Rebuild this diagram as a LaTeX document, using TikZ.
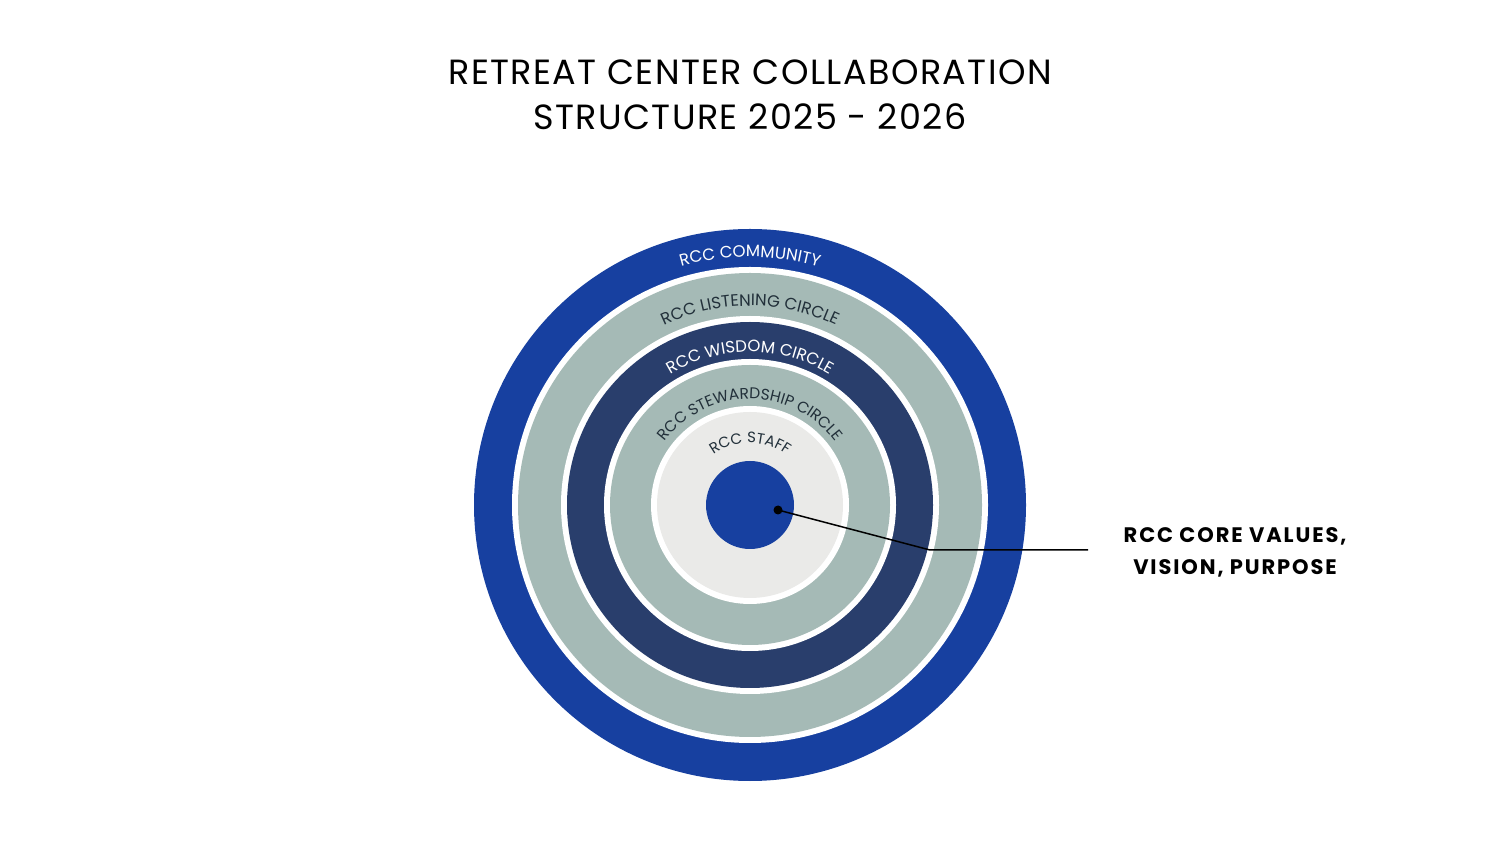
\documentclass[tikz,border=0pt]{standalone}
\usepackage{fontspec}
\setmainfont{Poppins}
\newfontfamily\titlefont[LetterSpace=4]{Poppins}
\newfontfamily\labfont[LetterSpace=9]{Poppins}
\usetikzlibrary{decorations.text,calc}
\definecolor{rblue}{HTML}{1740A0}
\definecolor{rgray}{HTML}{A5BAB6}
\definecolor{rdark}{HTML}{293E6C}
\definecolor{rlight}{HTML}{EAEAE8}
\definecolor{rtext}{HTML}{22303A}
\tikzset{disc/.style={circle,inner sep=0pt,minimum size=#1}}
\begin{document}
\begin{tikzpicture}[x=1pt,y=1pt]
\useasboundingbox[fill=white] (0,0) rectangle (1500,844);
\coordinate (c) at (750,339);
\node[disc=552,fill=rblue] (r1) at (c) {};
\node[disc=476,fill=white] at (c) {};
\node[disc=464,fill=rgray] (r2) at (c) {};
\node[disc=378,fill=white] at (c) {};
\node[disc=366,fill=rdark] (r3) at (c) {};
\node[disc=292,fill=white] at (c) {};
\node[disc=280,fill=rgray] (r4) at (c) {};
\node[disc=198,fill=white] at (c) {};
\node[disc=186,fill=rlight] (r5) at (c) {};
\node[disc=88,fill=rblue] (core) at (c) {};
% ring labels
\path[decorate,decoration={text along path,text align=center,
  text={|\fontsize{16.5}{16}\selectfont\color{white}|RCC COMMUNITY}}]
  ($(c)+(180:248)$) arc[start angle=180,end angle=0,radius=248];
\path[decorate,decoration={text along path,text align=center,
  text={|\fontsize{16.5}{16}\selectfont\color{rtext}|RCC LISTENING CIRCLE}}]
  ($(c)+(180:199)$) arc[start angle=180,end angle=0,radius=199];
\path[decorate,decoration={text along path,text align=center,
  text={|\fontsize{16.5}{16}\selectfont\color{white}|RCC WISDOM CIRCLE}}]
  ($(c)+(180:153)$) arc[start angle=180,end angle=0,radius=153];
\path[decorate,decoration={text along path,text align=center,
  text={|\fontsize{15.5}{15}\selectfont\color{rtext}|RCC STEWARDSHIP CIRCLE}}]
  ($(c)+(180:106)$) arc[start angle=180,end angle=0,radius=106];
\path[decorate,decoration={text along path,text align=center,
  text={|\fontsize{15}{15}\selectfont\color{rtext}|RCC STAFF}}]
  ($(c)+(180:62)$) arc[start angle=180,end angle=0,radius=62];
% title
\node[font=\titlefont\fontsize{35}{45}\selectfont,align=center,text=black] (title) at (750,749)
  {RETREAT CENTER COLLABORATION\\STRUCTURE 2025 - 2026};
% connector
\node[circle,fill=black,inner sep=0pt,minimum size=9pt] (dot) at (778,334) {};
\coordinate (knee) at (930,294);
\coordinate (end) at (1088,294);
\draw[line width=1.5pt] (dot.center) -- (knee) -- (end);
\node[font=\labfont\fontsize{21}{32}\selectfont\bfseries,align=center,text=black] (lab) at (1235,292)
  {RCC CORE VALUES,\\VISION, PURPOSE};
\end{tikzpicture}
\end{document}
